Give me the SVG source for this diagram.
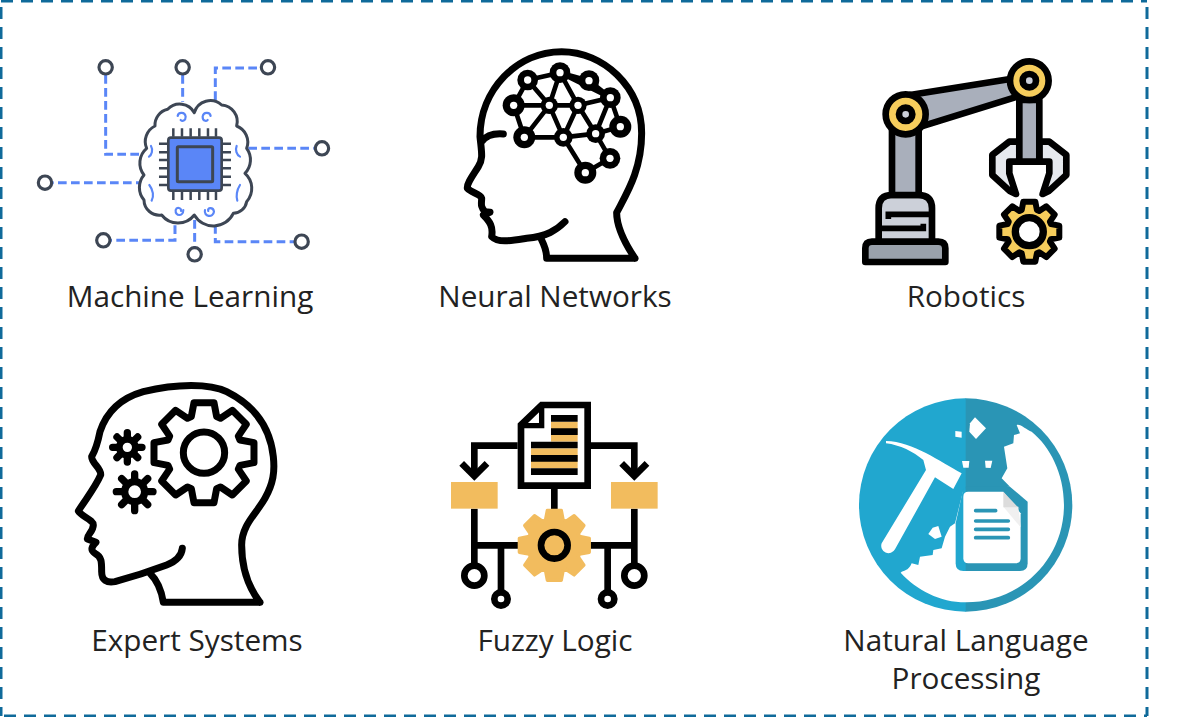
<svg xmlns="http://www.w3.org/2000/svg" xmlns:xlink="http://www.w3.org/1999/xlink" width="1200" height="717" viewBox="0 0 1200 717">
<style>
.lbl{font-family:"Open Sans","Noto Sans","Liberation Sans",sans-serif;font-size:29.7px;fill:#222;text-anchor:middle}
.k{fill:none;stroke:#000;stroke-linecap:round;stroke-linejoin:round}
.d{fill:none;stroke:#5a86f7;stroke-width:9;stroke-dasharray:26 13}
.r{fill:#fff;stroke:#3d4654;stroke-width:9.5}
.p{stroke:#3d4654;stroke-width:7.5}
.s{fill:none;stroke:#5a86f7;stroke-width:6.5;stroke-linecap:round}
.f{fill:none;stroke:#0f6a9a;stroke-width:3;stroke-dasharray:12 8}
</style>
<defs>
<polygon id="g8" points="-38,-108 -30,-150 30,-150 38,-108 49.5,-103 85,-127 127,-85 103,-49.5 108,-38 150,-30 150,30 108,38 103,49.5 127,85 85,127 49.5,103 38,108 30,150 -30,150 -38,108 -49.5,103 -85,127 -127,85 -103,49.5 -108,38 -150,30 -150,-30 -108,-38 -103,-49.5 -127,-85 -85,-127 -49.5,-103"/>
<clipPath id="leftHalf"><rect x="0" y="0" width="348" height="700"/></clipPath>
<clipPath id="rightHalf"><rect x="347" y="0" width="400" height="700"/></clipPath>
</defs>
<g id="frame"><path class="f" d="M1 1H1147"/><path class="f" d="M1 7V716"/><path class="f" d="M1147 7V716"/><path class="f" d="M4 716H1147"/></g>
<g id="machine-learning">
<g transform="translate(20,40) scale(.3333)">
<path class="d" d="M257 105V343H360M75 428H360M488 105V185M586 180V84H722M685 325H884M250 601H465V555M524 540V625M586 555V605H825"/>
<path d="M523 218A50 50 0 0 1 605 195A50 50 0 0 1 650 258A52 52 0 0 1 680 325A58 58 0 0 1 675 400A60 60 0 0 1 680 485A42 42 0 0 1 640 520A66 66 0 0 1 523 525A62 62 0 0 1 425 525A46 46 0 0 1 372 480A58 58 0 0 1 372 405A58 58 0 0 1 380 325A52 52 0 0 1 405 258A48 48 0 0 1 443 208A50 50 0 0 1 523 218Z" fill="#fff" stroke="#3d4654" stroke-width="9" stroke-linejoin="round"/>
<path class="p" d="M460 265V290M486 265V290M512 265V290M538 265V290M564 265V290M588 265V290M460 455V480M486 455V480M512 455V480M538 455V480M564 455V480M588 455V480M417 311H445M417 337H445M417 360H445M417 385H445M417 410H445M417 435H445M605 311H633M605 337H633M605 360H633M605 385H633M605 410H633M605 435H633"/>
<rect x="445" y="293" width="160" height="159" rx="8" fill="#5a86f7" stroke="#3d4654" stroke-width="8"/>
<rect x="472" y="320" width="106" height="105" rx="3" fill="#5a86f7" stroke="#3d4654" stroke-width="9"/>
<path class="s" d="M473 228C475 215 495 215 497 230C497 243 487 245 482 240M572 228C570 215 550 215 548 230C548 243 558 245 563 240M393 318C400 330 395 345 387 350M650 318C645 330 650 345 660 350M388 435C400 450 402 470 395 482M660 435C650 450 648 470 652 482M490 510C490 530 465 530 467 510C470 500 485 503 483 513M555 510C550 530 580 535 582 515C580 500 560 503 565 513"/>
<circle class="r" cx="257" cy="82" r="20"/><circle class="r" cx="488" cy="82" r="20"/><circle class="r" cx="744" cy="82" r="20"/><circle class="r" cx="906" cy="325" r="20"/><circle class="r" cx="75" cy="428" r="20"/><circle class="r" cx="250" cy="601" r="20"/><circle class="r" cx="524" cy="643" r="20"/><circle class="r" cx="845" cy="605" r="20"/>
</g>
<text class="lbl" x="190" y="307">Machine Learning</text>
</g>
<g id="neural-networks">
<g transform="translate(440,30) scale(.3333)">
<path class="k" stroke-width="21" d="M585 685C555 640 530 590 530 548C560 490 605 420 605 310C605 170 490 65 365 65C230 65 120 180 120 320C125 370 130 385 115 410C100 435 80 460 82 475C95 490 120 490 125 505C125 520 120 530 135 545L150 547L130 555C150 575 160 590 155 620C175 640 215 632 260 625C320 620 350 600 375 575M305 630C315 650 320 670 320 685H585M125 335C140 315 165 310 190 312"/>
<path class="k" stroke-width="14" d="M263 150L360 128L447 152L511 203L541 290L467 311L510 385L436 428L370 322L467 311M370 322L253 322L221 226L263 150M221 226H328L414 226L511 203L467 311M263 150L328 226M360 128L328 226M360 128L414 226M360 128L511 203M328 226L253 322M328 226L370 322M414 226L370 322M414 226L467 311"/>
<g fill="#000"><circle cx="263" cy="150" r="31"/><circle cx="360" cy="128" r="31"/><circle cx="447" cy="152" r="31"/><circle cx="511" cy="203" r="31"/><circle cx="541" cy="290" r="33"/><circle cx="467" cy="311" r="28"/><circle cx="510" cy="385" r="31"/><circle cx="436" cy="428" r="33"/><circle cx="370" cy="322" r="28"/><circle cx="253" cy="322" r="33"/><circle cx="221" cy="226" r="33"/><circle cx="328" cy="226" r="26"/><circle cx="414" cy="226" r="26"/></g>
<g fill="#fff"><circle cx="263" cy="150" r="11"/><circle cx="360" cy="128" r="11"/><circle cx="447" cy="152" r="11"/><circle cx="511" cy="203" r="11"/><circle cx="541" cy="290" r="11"/><circle cx="467" cy="311" r="11"/><circle cx="510" cy="385" r="11"/><circle cx="436" cy="428" r="11"/><circle cx="370" cy="322" r="11"/><circle cx="253" cy="322" r="11"/><circle cx="221" cy="226" r="11"/><circle cx="328" cy="226" r="11"/><circle cx="414" cy="226" r="11"/></g>
</g>
<text class="lbl" x="555" y="307">Neural Networks</text>
</g>
<g id="robotics">
<g transform="translate(850,40) scale(.3333)" stroke="#000" stroke-width="20" stroke-linejoin="round">
<path fill="#9aa1ab" d="M46 666V625Q46 605 66 605H265Q286 605 286 625V666Z"/>
<path fill="#ccd0d9" d="M86 605V505Q86 465 126 465H205Q246 465 246 505V605Z"/>
<path fill="none" stroke-width="17" stroke-linejoin="miter" d="M240 523H115V537M95 565H220V551"/>
<rect x="126" y="270" width="80" height="195" fill="#a9afbb"/>
<path fill="#a9afbb" d="M180 165L495 115V172L205 262Z"/>
<path fill="#e6e9ee" d="M478 305H508V365H478V400L498 462L478 452L427 405V345Z"/>
<path fill="#e6e9ee" d="M598 305H568V365H598V400L578 462L598 452L649 405V345Z"/>
<rect x="508" y="180" width="60" height="185" fill="#a9afbb"/>
<circle cx="167" cy="223" r="60" fill="#f6cd5c"/>
<circle cx="167" cy="223" r="20" fill="#ccd0d9" stroke-width="20"/>
<circle cx="538" cy="122" r="58" fill="#f6cd5c"/>
<circle cx="538" cy="122" r="20" fill="#ccd0d9" stroke-width="20"/>
<use xlink:href="#g8" href="#g8" transform="translate(538,575) scale(.6)" fill="#f6cd5c" stroke-width="30"/>
<circle cx="538" cy="575" r="42" fill="#fff" stroke-width="22"/>
</g>
<text class="lbl" x="966" y="307">Robotics</text>
</g>
<g id="expert-systems">
<g transform="translate(60,385) scale(.3333)">
<path class="k" stroke-width="21" d="M600 652C560 600 545 540 545 480C545 420 590 385 615 340C640 295 645 260 640 215C630 120 580 60 500 20C450 -5 350 -5 250 20C180 40 140 80 120 140C115 165 110 190 95 215C95 235 125 250 122 270C105 310 75 345 55 378C65 395 100 405 100 420C100 440 80 450 82 462L108 472C95 485 90 495 105 505C125 515 125 530 125 560C125 585 140 595 165 590C220 575 280 555 320 540C350 528 365 510 367 490M270 565C295 590 305 620 310 652H600"/>
<use xlink:href="#g8" href="#g8" transform="translate(432,203)" fill="#fff" stroke="#000" stroke-width="21" stroke-linejoin="round"/>
<circle cx="432" cy="203" r="62" fill="#fff" stroke="#000" stroke-width="21"/>
<path class="k" stroke-width="22" d="M202 143V231M158 187H246M171 156L233 218M233 156L171 218"/>
<circle cx="202" cy="187" r="24" fill="#fff" stroke="#000" stroke-width="20"/>
<path class="k" stroke-width="22" d="M224 267V377M169 320H279M185 281L263 359M263 281L185 359"/>
<circle cx="224" cy="320" r="30" fill="#fff" stroke="#000" stroke-width="22"/>
</g>
<text class="lbl" x="197" y="651">Expert Systems</text>
</g>
<g id="fuzzy-logic">
<g transform="translate(440,390) scale(.3333)">
<path fill="none" stroke="#000" stroke-width="20" d="M233 167H103V260M452 167H583V260M103 356V525M583 356V525M103 466H583M183 466V600M503 466V600M343 297V370"/>
<path fill="none" stroke="#000" stroke-width="20" d="M65 220L103 258L141 220M545 220L583 258L621 220"/>
<path d="M243 105L305 45H443V287H243Z" fill="#fff" stroke="#000" stroke-width="20"/>
<path d="M243 107H305V45" fill="none" stroke="#000" stroke-width="16"/>
<rect x="333" y="95" width="80" height="60" fill="#f2bc5e"/><rect x="273" y="175" width="140" height="60" fill="#f2bc5e"/>
<path d="M333 75h80v20h-80zM333 115h80v20h-80zM273 155h140v20h-140zM273 195h140v20h-140zM273 235h140v20h-140z"/>
<rect x="33" y="276" width="140" height="80" fill="#f2bc5e"/><rect x="513" y="276" width="140" height="80" fill="#f2bc5e"/>
<use xlink:href="#g8" href="#g8" transform="translate(343,466) scale(.7)" fill="#f2bc5e" stroke="#f2bc5e" stroke-width="14" stroke-linejoin="round"/>
<circle cx="343" cy="466" r="40" fill="#f2bc5e" stroke="#000" stroke-width="20"/>
<circle cx="103" cy="557" r="30" fill="#fff" stroke="#000" stroke-width="20"/><circle cx="583" cy="557" r="30" fill="#fff" stroke="#000" stroke-width="20"/>
<circle cx="183" cy="627" r="20" fill="#fff" stroke="#000" stroke-width="20"/><circle cx="503" cy="627" r="20" fill="#fff" stroke="#000" stroke-width="20"/>
</g>
<text class="lbl" x="555" y="651">Fuzzy Logic</text>
</g>
<g id="nlp">
<g transform="translate(850,390) scale(.3333)">
<circle cx="347" cy="345" r="320" fill="#21a7cf" clip-path="url(#leftHalf)"/>
<circle cx="347" cy="345" r="320" fill="#2a95b5" clip-path="url(#rightHalf)"/>
<path fill="#fff" d="M500 105C510 100 530 120 545 125C600 170 642 250 642 345C642 510 510 637 347 637C270 637 200 600 152 548C160 540 175 545 185 520L205 525L210 500L248 495L250 480L275 475L285 440L300 410L315 400L340 300L480 290L455 265L472 235L462 170L490 160L492 135L510 130Z"/>
<path fill="#21a7cf" clip-path="url(#leftHalf)" d="M317 400L340 295H480L533 335V520Q533 543 510 543H340Q317 543 317 520Z"/>
<path fill="#2a95b5" clip-path="url(#rightHalf)" d="M317 400L340 290H480L533 335V520Q533 543 510 543H340Q317 543 317 520Z"/>
<path fill="#fff" d="M340 320Q340 305 355 305H460L512 370V505Q512 520 497 520H355Q340 520 340 505Z"/>
<path fill="#f0f0f0" d="M460 350H505L512 412Z"/>
<path fill="#dcdcdc" d="M460 305L512 360L505 352H460Z"/>
<path fill="none" stroke="#2a95b5" stroke-width="11" stroke-linecap="round" d="M377 362H437M377 393H475M377 418H475M377 443H475"/>
<path fill="#fff" d="M108 153C190 155 270 215 335 250L310 297L255 262L135 478A22 22 0 0 1 95 460L228 240L220 210C190 185 150 165 108 160Z"/>
<g fill="#fff"><polygon points="316,123 335,125 335,143 316,140"/><polygon points="375,82 408,115 378,147 358,125 360,100"/><polygon points="336,213 358,213 356,233 340,233"/><polygon points="405,212 427,212 422,234 407,233"/><polygon points="248,413 265,408 275,440 255,447 235,432"/></g>
</g>
<text class="lbl" x="966" y="651">Natural Language</text>
<text class="lbl" x="966" y="689">Processing</text>
</g>
</svg>
